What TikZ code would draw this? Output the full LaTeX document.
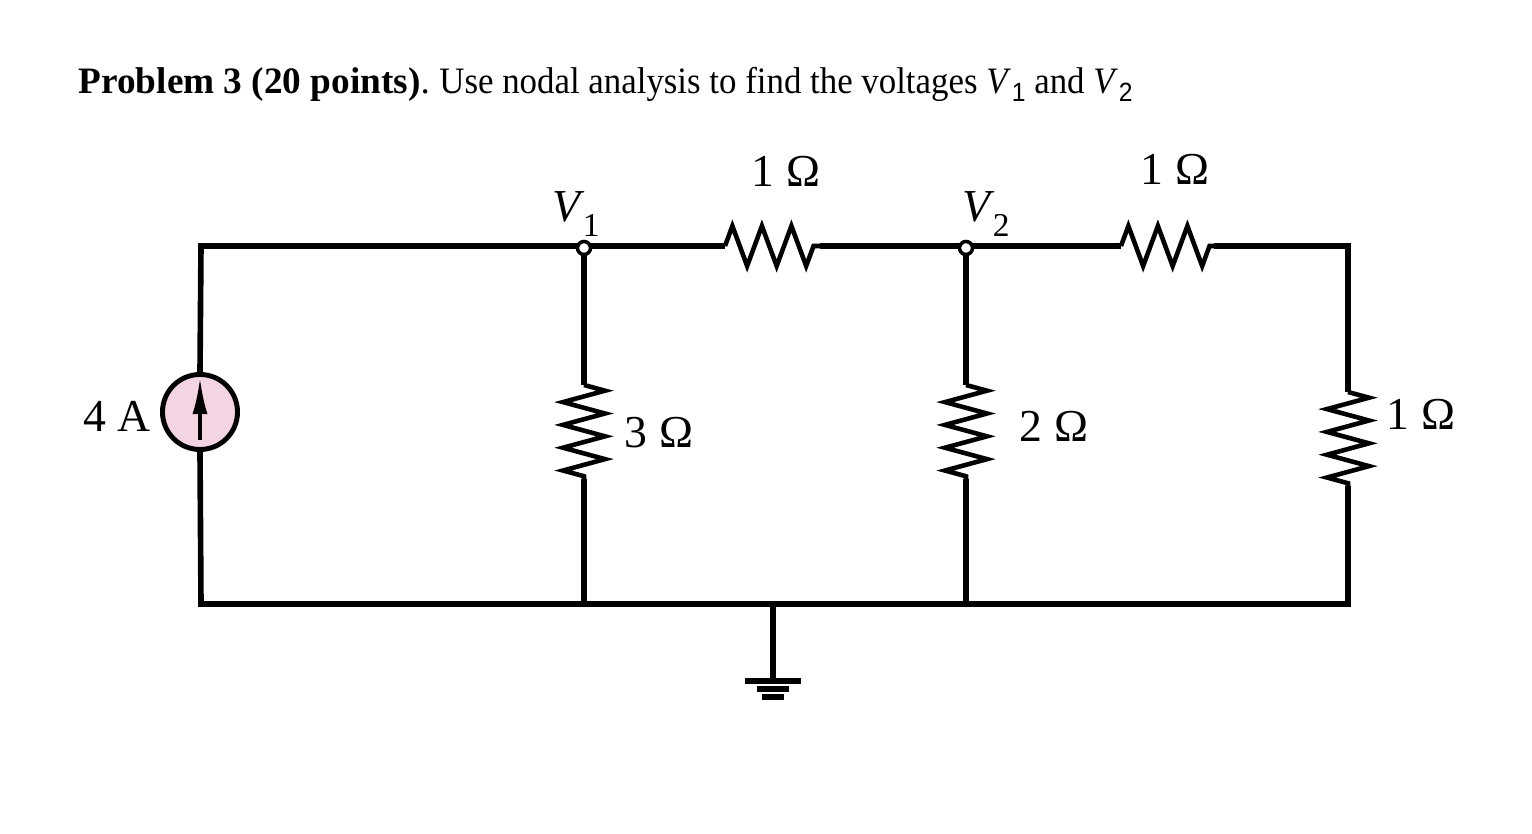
\documentclass[tikz,border=0pt]{standalone}
\usepackage{fontspec}
\setmainfont{Liberation Serif}
\newfontfamily\subfont{Liberation Sans}
\usetikzlibrary{calc}
\usetikzlibrary{decorations.pathmorphing}
\usetikzlibrary{arrows.meta}

\newcommand{\titlevar}[1]{\textit{V}\kern0.3pt\raisebox{-2pt}{\subfont\fontsize{7.5}{7.5}\selectfont #1}}
\newcommand{\nodesub}[1]{\kern-0.5pt\raisebox{-4.3pt}{\fontsize{9.5}{9.5}\selectfont #1}}

\begin{document}
\begin{tikzpicture}[x=0.01cm,y=-0.01cm]
\tikzset{wire/.style = {line width=1.6pt, line join=miter}}
\tikzset{hres/.style = {line width=1.3pt, line join=miter, decorate,
  decoration={zigzag, amplitude=0.2cm, segment length=0.295cm}}}
\tikzset{vres/.style = {line width=1.3pt, line join=miter, decorate,
  decoration={zigzag, amplitude=0.21cm, segment length=0.228cm}}}
\tikzset{junction/.style = {shape=circle,draw,fill=white,line width=1pt,inner sep=0pt,minimum size=0.13cm}}
\tikzset{source/.style = {shape=circle,draw,fill=srcpink,line width=1.4pt,minimum size=0.75cm,inner sep=0pt}}
\tikzset{lbl/.style = {font=\fontsize{13}{15}\selectfont, inner sep=0pt}}
\tikzset{plate/.style = {line width=1.7pt}}
\definecolor{srcpink}{HTML}{F3D4E3}
\useasboundingbox (0,0) rectangle (1532,834);
% title
\node[anchor=base west, font=\fontsize{10.6}{13}\selectfont, inner sep=0pt] (title) at (78,94)
  {\frenchspacing\textbf{Problem 3 (20 points)}.\ \scalebox{0.935}[1]{Use nodal analysis to find the voltages \titlevar{1} and \titlevar{2}}};
% corners and nodes
\coordinate (tl) at (201,246);
\coordinate (n1) at (584,246);
\coordinate (n2) at (966,246);
\coordinate (tr) at (1348,246);
\coordinate (bl) at (201,604);
\coordinate (b1) at (584,604);
\coordinate (b2) at (966,604);
\coordinate (br) at (1348,604);
\coordinate (g) at (773,604);
\coordinate (gnd) at (773,681);
% resistor ends
\coordinate (ra1) at (725,246);
\coordinate (ra2) at (820,246);
\coordinate (rb1) at (1121,246);
\coordinate (rb2) at (1214,246);
\coordinate (rc1) at (584,385);
\coordinate (rc2) at (584,479);
\coordinate (rd1) at (966,385);
\coordinate (rd2) at (966,479);
\coordinate (re1) at (1348,392);
\coordinate (re2) at (1348,486);
\node[source] (src) at (200,412) {};
% wires
\draw[wire] (n1) -- (tl) -- (src.north);
\draw[wire] (src.south) -- (bl) -- (br) -- (re2);
\draw[wire] (re1) -- (tr) -- (rb2);
\draw[wire] (n1) -- (ra1);
\draw[wire] (ra2) -- (rb1);
\draw[wire] (n1) -- (rc1);
\draw[wire] (rc2) -- (b1);
\draw[wire] (n2) -- (rd1);
\draw[wire] (rd2) -- (b2);
\draw[wire] (g) -- (gnd);
% resistors
\draw[hres] (ra1) -- (ra2);
\draw[hres] (rb1) -- (rb2);
\draw[vres] (rc1) -- (rc2);
\draw[vres] (rd1) -- (rd2);
\draw[vres] (re1) -- (re2);
% source arrow
\draw[line width=1pt, -{Latex[length=0.36cm,width=0.15cm]}] ($(src)+(0,28)$) -- ($(src)+(0,-34)$);
% ground
\foreach \w/\d in {28/0, 16/8, 11/16}
  \draw[plate] ($(gnd)+(-\w,\d)$) -- ($(gnd)+(\w,\d)$);
% junctions
\node[junction] (V1) at (584,248) {};
\node[junction] (V2) at (966,248) {};
% labels
\node[lbl] (lsrc) at (117,416) {4 A};
\node[lbl] (lra) at (786,171) {1 Ω};
\node[lbl] (lrb) at (1175,169) {1 Ω};
\node[lbl] (lrc) at (659,433) {3 Ω};
\node[lbl] (lrd) at (1054,426) {2 Ω};
\node[lbl] (lre) at (1421,414) {1 Ω};
\node[lbl] (lv1) at (576,214) {\textit{V}\nodesub{1}};
\node[lbl] (lv2) at (986,214) {\textit{V}\nodesub{2}};
\end{tikzpicture}
\end{document}
